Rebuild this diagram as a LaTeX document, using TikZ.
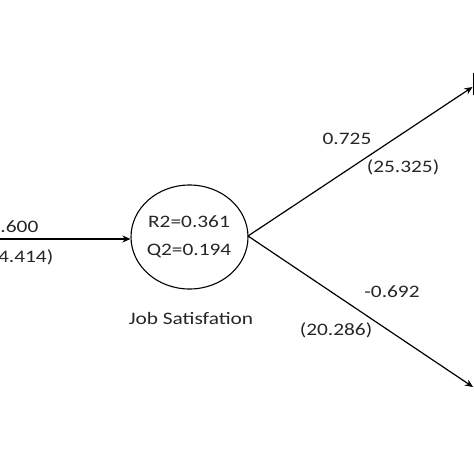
\documentclass[tikz,border=0pt]{standalone}
\usepackage{fontspec}
\setmainfont{Carlito}[FakeStretch=1.22]
\usetikzlibrary{shapes.geometric,arrows.meta}
\begin{document}
\begin{tikzpicture}[x=1pt,y=-1pt,
  lbl/.style={font=\fontsize{17.5}{20}\selectfont, text=black!85, inner sep=0pt, anchor=center},
  conn/.style={line width=1.2pt, -{Stealth[length=8pt,width=7pt]}},
  latent/.style={draw, line width=1.1pt, ellipse, minimum width=117pt, minimum height=104pt, inner sep=0pt}]
\clip (0,0) rectangle (474,474);
\fill[white] (0,0) rectangle (474,474);
\node[latent] (js) at (189.5,237) {};
\node[lbl] (r2) at (189,222) {R2=0.361};
\node[lbl] (q2) at (189,251) {Q2=0.194};
\node[lbl] (jsl) at (191,318) {Job Satisfation};
\coordinate (src) at (-10,239);
\coordinate (jr) at (248,236);
\node[draw, line width=1.6pt, minimum width=40pt, minimum height=20pt, inner sep=0pt, anchor=west] (top) at (472.5,84) {};
\coordinate (bot) at (473,387);
\draw[conn] (src) -- (js.west |- src);
\draw[conn] (jr) -- (top.west |- 0,87);
\draw[conn] (jr) -- (bot);
\node[lbl] (a1) at (14,227) {0.600};
\node[lbl] (a2) at (17,257) {(24.414)};
\node[lbl] (b1) at (347,139) {0.725};
\node[lbl] (b2) at (403,167) {(25.325)};
\node[lbl] (c1) at (392,292) {-0.692};
\node[lbl] (c2) at (336,330) {(20.286)};
\end{tikzpicture}
\end{document}
